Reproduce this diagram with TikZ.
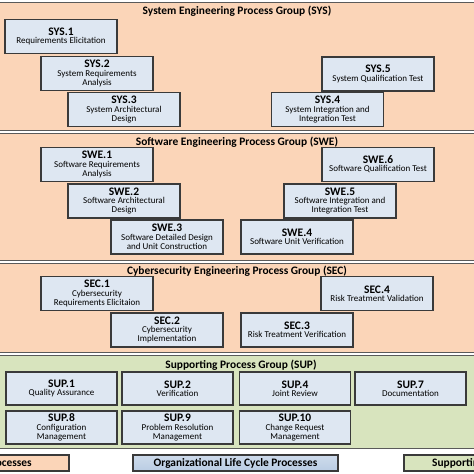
\documentclass[tikz,border=0pt]{standalone}
\usepackage{fontspec}
\setmainfont{Carlito}
\definecolor{peach}{HTML}{FBD5B8}
\definecolor{sage}{HTML}{D8E4BE}
\definecolor{boxfill}{HTML}{DEE7F2}
\definecolor{legblue}{HTML}{B9CCE3}
\definecolor{panelline}{HTML}{5A5A5A}
\definecolor{boxline}{HTML}{3A3A3A}
\tikzset{
  panel/.style={draw=panelline, line width=1pt},
  proc/.style={draw=boxline, line width=1.1pt, fill=boxfill, minimum width=112pt, minimum height=34pt, inner sep=0.5pt, align=center, font=\fontsize{9}{9.3}\selectfont},
  grptitle/.style={font=\fontsize{11.4}{13}\selectfont\bfseries, inner sep=0pt},
  legend/.style={draw=boxline, line width=1.1pt, minimum height=16pt, inner sep=0pt},
}
\newcommand{\codetxt}[1]{\fontsize{11.5}{12}\selectfont\bfseries #1}
\newcommand{\desctxt}{\fontsize{9}{9.3}\selectfont\mdseries}
\begin{document}
\begin{tikzpicture}[x=1pt,y=-1pt]
\useasboundingbox (0,0) rectangle (474,474);
\clip (0,0) rectangle (474,474);
\fill[white] (0,0) rectangle (474,474);
% panels
\filldraw[panel, fill=peach] (-10,2.5) rectangle (484,130.5);
\filldraw[panel, fill=peach] (-10,133.5) rectangle (484,260.5);
\filldraw[panel, fill=peach] (-10,263.5) rectangle (484,352.5);
\filldraw[panel, fill=sage] (-10,355.5) rectangle (484,448.5);
% titles
\node[grptitle] (tsys) at (237,11.5) {System Engineering Process Group (SYS)};
\node[grptitle] (tswe) at (237,142.5) {Software Engineering Process Group (SWE)};
\node[grptitle] (tsec) at (237,271) {Cybersecurity Engineering Process Group (SEC)};
\node[grptitle] (tsup) at (241,365) {Supporting Process Group (SUP)};
% SYS
\node[proc] (sys1) at (61,36.5) {\codetxt{SYS.1}\\[-1pt]\desctxt Requirements Elicitation};
\node[proc] (sys2) at (97,73.5) {\codetxt{SYS.2}\\[-1pt]\desctxt System Requirements\\Analysis};
\node[proc] (sys3) at (124,109.5) {\codetxt{SYS.3}\\[-1pt]\desctxt System Architectural\\Design};
\node[proc] (sys5) at (378,74) {\codetxt{SYS.5}\\[-1pt]\desctxt System Qualification Test};
\node[proc] (sys4) at (327.5,109.5) {\codetxt{SYS.4}\\[-1pt]\desctxt System Integration and\\Integration Test};
% SWE
\node[proc] (swe1) at (97,164.5) {\codetxt{SWE.1}\\[-1pt]\desctxt Software Requirements\\Analysis};
\node[proc] (swe2) at (124,201) {\codetxt{SWE.2}\\[-1pt]\desctxt Software Architectural\\Design};
\node[proc] (swe3) at (167,237) {\codetxt{SWE.3}\\[-1pt]\desctxt Software Detailed Design\\and Unit Construction};
\node[proc] (swe6) at (378,164.5) {\codetxt{SWE.6}\\[-1pt]\desctxt Software Qualification Test};
\node[proc] (swe5) at (340,201) {\codetxt{SWE.5}\\[-1pt]\desctxt Software Integration and\\Integration Test};
\node[proc] (swe4) at (297,237) {\codetxt{SWE.4}\\[-1pt]\desctxt Software Unit Verification};
% SEC
\node[proc] (sec1) at (97,293.5) {\codetxt{SEC.1}\\[-1pt]\desctxt Cybersecurity\\Requirements Elicitaion};
\node[proc] (sec2) at (167,330) {\codetxt{SEC.2}\\[-1pt]\desctxt Cybersecurity\\Implementation};
\node[proc] (sec4) at (377,293.5) {\codetxt{SEC.4}\\[-1pt]\desctxt Risk Treatment Validation};
\node[proc] (sec3) at (297,330) {\codetxt{SEC.3}\\[-1pt]\desctxt Risk Treatment Verification};
% SUP
\tikzset{supbox/.style={proc, minimum width=111pt, minimum height=33pt}}
\node[supbox] (sup1) at (61.5,388.5) {\codetxt{SUP.1}\\[-1pt]\desctxt Quality Assurance};
\node[supbox] (sup2) at (177.5,388.5) {\codetxt{SUP.2}\\[-1pt]\desctxt Verification};
\node[supbox] (sup4) at (295,388.5) {\codetxt{SUP.4}\\[-1pt]\desctxt Joint Review};
\node[supbox] (sup7) at (410.5,388.5) {\codetxt{SUP.7}\\[-1pt]\desctxt Documentation};
\node[supbox] (sup8) at (61.5,427.5) {\codetxt{SUP.8}\\[-1pt]\desctxt Configuration\\Management};
\node[supbox] (sup9) at (177.5,427.5) {\codetxt{SUP.9}\\[-1pt]\desctxt Problem Resolution\\Management};
\node[supbox] (sup10) at (295,427.5) {\codetxt{SUP.10}\\[-1pt]\desctxt Change Request\\Management};
% legend
\filldraw[legend, fill=peach] (-80,455) rectangle (69,471);
\node[grptitle, anchor=east] (lprim) at (32,463) {Primary Life Cycle Processes};
\filldraw[legend, top color=legblue!70, bottom color=legblue] (133,455) rectangle (338,471);
\node[grptitle] (lorg) at (235.5,463) {Organizational Life Cycle Processes};
\filldraw[legend, fill=sage] (404,455) rectangle (600,471);
\node[grptitle, anchor=west] (lsup) at (432,463) {Supporting Life Cycle Processes};
\end{tikzpicture}
\end{document}
